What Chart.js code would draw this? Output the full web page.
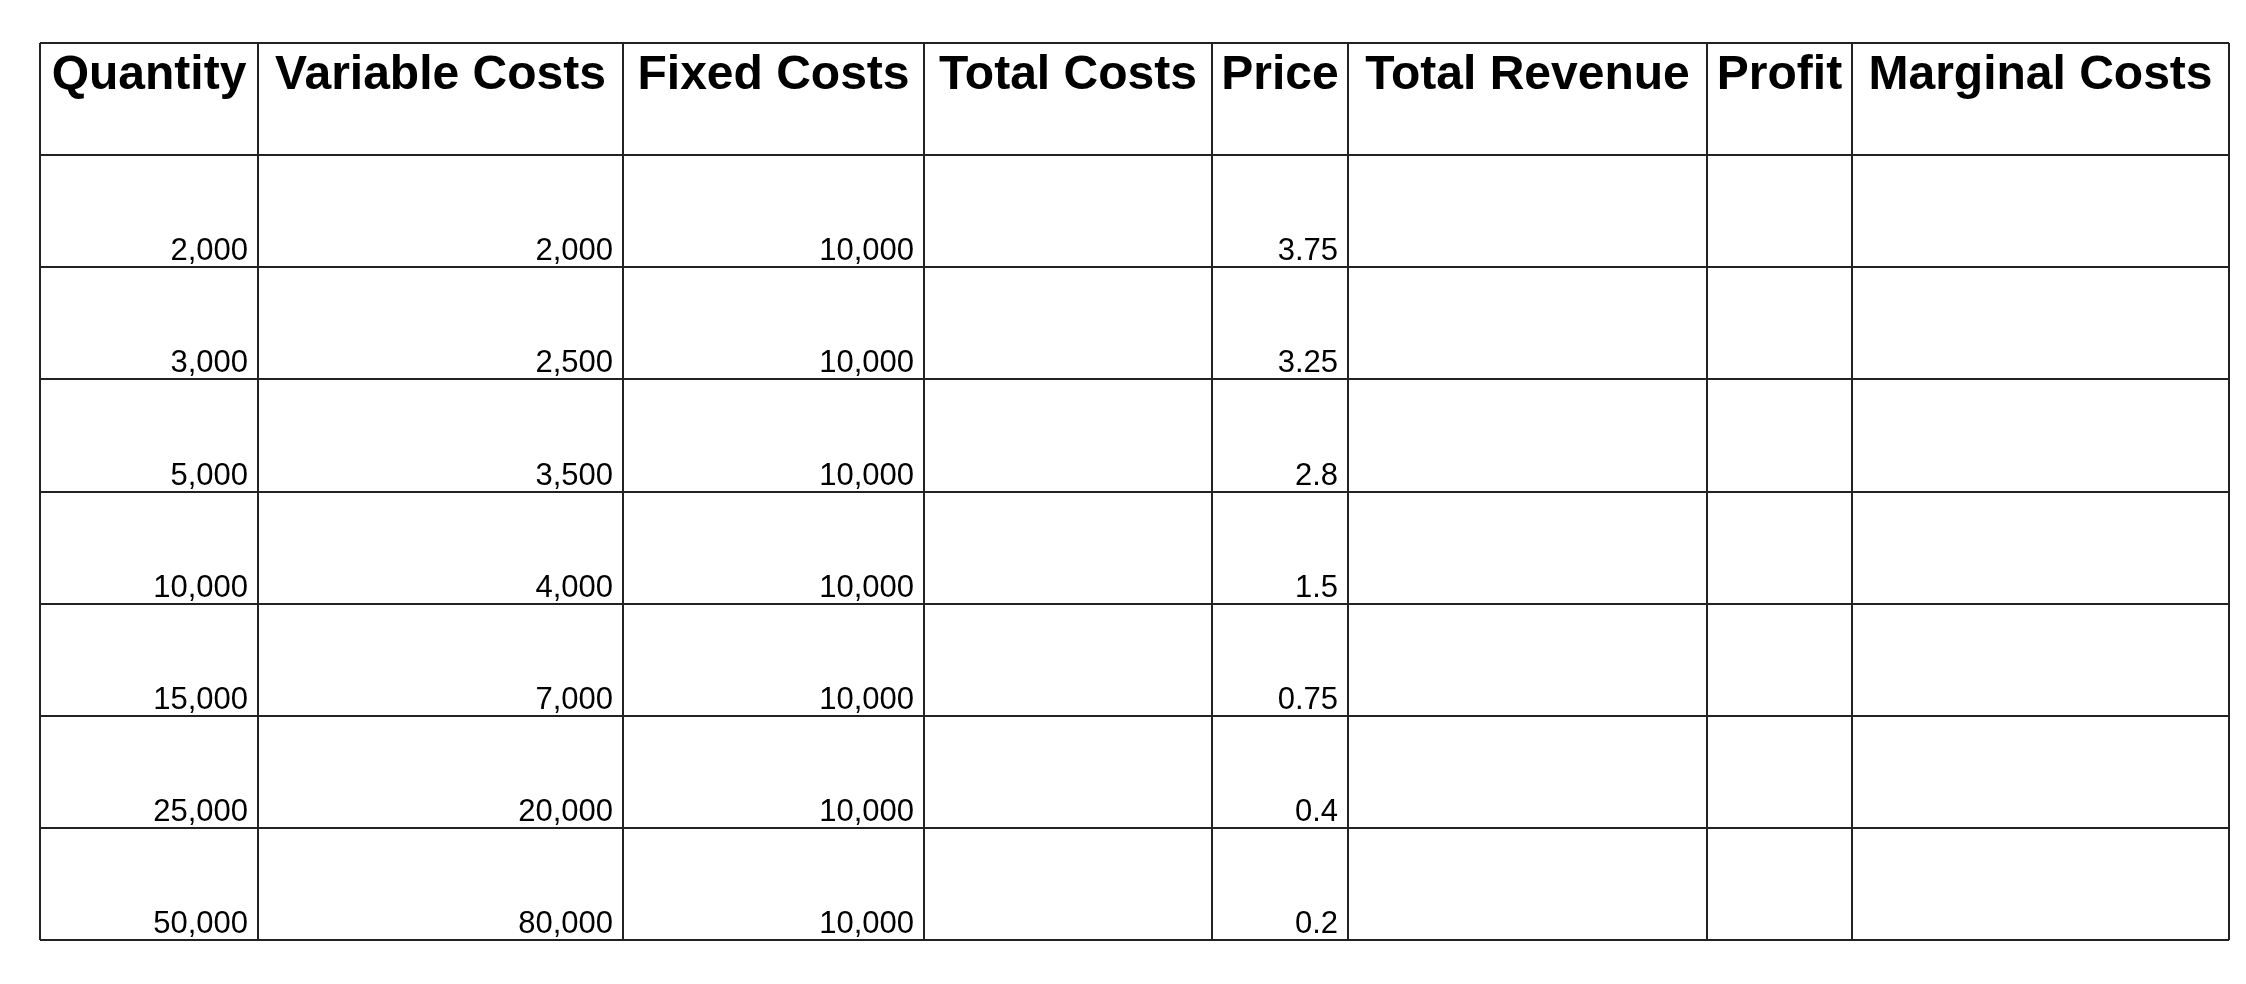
<!DOCTYPE html>
<html><head><meta charset="utf-8">
<script src="https://cdn.jsdelivr.net/npm/chart.js@4"></script>
<style>html,body{margin:0;padding:0;background:#fff}#w{width:2246px;height:984px}</style>
</head><body><div id="w"><canvas id="c"></canvas></div>
<script>
const headers = ["Quantity","Variable Costs","Fixed Costs","Total Costs","Price","Total Revenue","Profit","Marginal Costs"];
const quantity = ["2,000","3,000","5,000","10,000","15,000","25,000","50,000"];
const variableCosts = ["2,000","2,500","3,500","4,000","7,000","20,000","80,000"];
const fixedCosts = ["10,000","10,000","10,000","10,000","10,000","10,000","10,000"];
const totalCosts = ["","","","","","",""];
const price = ["3.75","3.25","2.8","1.5","0.75","0.4","0.2"];
const totalRevenue = ["","","","","","",""];
const profit = ["","","","","","",""];
const marginalCosts = ["","","","","","",""];
const columns = [quantity,variableCosts,fixedCosts,totalCosts,price,totalRevenue,profit,marginalCosts];
const colEdges = [0,218,583,884,1172,1308,1667,1812,2189];

const textPlugin = {
  id:'tableText',
  afterDraw(chart){
    const ctx=chart.ctx, xs=chart.scales.x, ys=chart.scales.y;
    ctx.save(); ctx.fillStyle='#000';
    headers.forEach((h,i)=>{
      const xc=(xs.getPixelForValue(colEdges[i])+xs.getPixelForValue(colEdges[i+1]))/2;
      ctx.font='bold 48px "Liberation Sans", Arial, sans-serif';
      ctx.textAlign='center'; ctx.textBaseline='middle';
      ctx.fillText(h,xc,ys.getPixelForValue(0)+33);
    });
    columns.forEach((col,i)=>{
      const xr=xs.getPixelForValue(colEdges[i+1])-10;
      col.forEach((v,r)=>{
        if(!v) return;
        ctx.font='31px "Liberation Sans", Arial, sans-serif';
        ctx.textAlign='right'; ctx.textBaseline='alphabetic';
        ctx.fillText(v,xr,ys.getPixelForValue(r+2)-7);
      });
    });
    ctx.restore();
  }
};

new Chart(document.getElementById('c'),{
  type:'scatter',
  data:{datasets:[{data:[],showLine:false}]},
  options:{
    responsive:true,maintainAspectRatio:false,animation:false,
    layout:{padding:{left:40,right:17,top:43,bottom:44}},
    plugins:{legend:{display:false},tooltip:{enabled:false}},
    scales:{
      x:{type:'linear',min:0,max:2189,
        afterBuildTicks(s){s.ticks=colEdges.map(v=>({value:v}));},
        ticks:{display:false},
        grid:{color:'#222',lineWidth:2,drawTicks:false},
        border:{display:false}},
      y:{type:'linear',min:0,max:8,reverse:true,
        afterBuildTicks(s){s.ticks=[0,1,2,3,4,5,6,7,8].map(v=>({value:v}));},
        ticks:{display:false},
        grid:{color:'#222',lineWidth:2,drawTicks:false},
        border:{display:false}}
    }
  },
  plugins:[textPlugin]
});
</script></body></html>
